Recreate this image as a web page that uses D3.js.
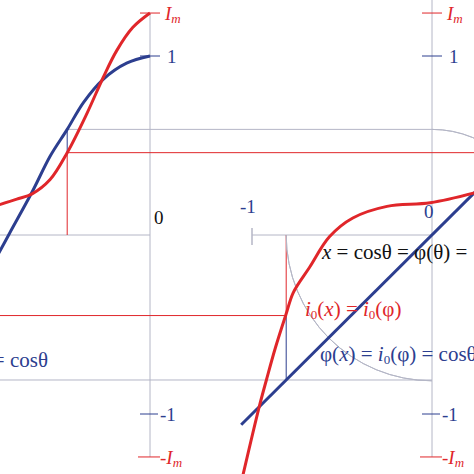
<!DOCTYPE html>
<html>
<head>
<meta charset="utf-8">
<script src="https://cdn.jsdelivr.net/npm/d3@7"></script>
<style>
  body { margin: 0; background: #fff; }
  text { font-family: "Liberation Serif", serif; }
</style>
</head>
<body>
<script>
// values
var Im = 1.24;
// left panel: theta (rad) vs value
var thetaBlue = [0, 0.26, 0.52, 0.74, 0.92, 1.11, 1.31, 1.56, 1.70];
var cosBlue   = [1, 0.96, 0.87, 0.74, 0.59, 0.44, 0.24, 0.01, -0.12];
var thetaRed  = [0, 0.19, 0.37, 0.52, 0.70, 0.92, 1.11, 1.31, 1.48, 1.67];
var i0Red     = [1.24, 1.16, 1.03, 0.88, 0.68, 0.46, 0.31, 0.23, 0.20, 0.17];
// right panel: x vs value
var xRed  = [-1.05, -0.96, -0.92, -0.87, -0.81, -0.77, -0.68, -0.57, -0.44, -0.25, -0.01, 0.235];
var i0X   = [-1.34, -0.96, -0.81, -0.63, -0.44, -0.32, -0.18, -0.01, 0.095, 0.16, 0.18, 0.235];
var xBlue = [-1.06, 0.25];
// construction points
var theta0 = 0.92, cos0 = 0.59, i0a = 0.46;
var x1 = -0.81, i0b = -0.45;

var W = 474, H = 474;
var red = "#e0262a", blue = "#2c3e8f", gray = "#b4b6c6";

var svg = d3.select("body").append("svg").attr("width", W).attr("height", H);

var y = d3.scaleLinear().domain([-1, 1]).range([414, 56]);
var xL = d3.scaleLinear().domain([0, 1]).range([150, 60]);   // theta, right to left
var xR = d3.scaleLinear().domain([-1, 0]).range([252, 432]);

function ln(x1_, y1_, x2_, y2_, c, w) {
  svg.append("line").attr("x1", x1_).attr("y1", y1_).attr("x2", x2_).attr("y2", y2_)
    .attr("stroke", c).attr("stroke-width", w || 1);
}

// axes
ln(xL(0), y(Im), xL(0), y(-Im), gray);
ln(xR(0), 0, xR(0), y(-Im), gray);
ln(0, y(0), xL(0), y(0), gray);
ln(xR(-1), y(0), xR(0), y(0), gray);
ln(xR(-1), y(0) - 7, xR(-1), y(0) + 10, gray, 1.5);

// ticks
[xL(0), xR(0)].forEach(function(cx) {
  ln(cx - 10, y(Im), cx + 10, y(Im), red);
  ln(cx - 10, y(1), cx + 10, y(1), blue);
  ln(cx - 10, y(-1), cx + 8, y(-1), blue);
  ln(cx - 12, y(-Im), cx + 10, y(-Im), red);
});

// construction lines
var cy = y(0), cx0 = xR(0);
var r1 = y(0) - y(cos0), r2 = xR(0) - xR(x1);
ln(xL(theta0), y(cos0), cx0, y(cos0), gray);
svg.append("path").attr("fill", "none").attr("stroke", gray)
  .attr("d", d3.arc()({innerRadius: r1, outerRadius: r1, startAngle: 0, endAngle: Math.PI / 2}))
  .attr("transform", "translate(" + cx0 + "," + cy + ")");
ln(xL(theta0), y(i0a), W, y(i0a), red);
ln(xL(theta0), y(i0a), xL(theta0), y(0), red);
ln(xL(theta0), y(cos0), xL(theta0), y(i0a), blue);

ln(0, y(i0b), xR(x1), y(i0b), red);
ln(xR(x1), y(0), xR(x1), y(i0b), red);
ln(xR(x1), y(i0b), xR(x1), y(x1), blue);
ln(0, y(x1), cx0, y(x1), gray);
svg.append("path").attr("fill", "none").attr("stroke", gray)
  .attr("d", d3.arc()({innerRadius: r2, outerRadius: r2, startAngle: Math.PI, endAngle: 1.5 * Math.PI}))
  .attr("transform", "translate(" + cx0 + "," + cy + ")");

// curves
var line = d3.line().curve(d3.curveCatmullRom);
function curve(xs, ys, sx, c) {
  svg.append("path").attr("fill", "none").attr("stroke", c).attr("stroke-width", 3)
    .attr("d", line(xs.map(function(v, i) { return [sx(v), y(ys[i])]; })));
}
curve(thetaBlue, cosBlue, xL, blue);
curve(thetaRed, i0Red, xL, red);
curve(xBlue, xBlue, xR, blue);
curve(xRed, i0X, xR, red);

// labels
function txt(x_, y_, parts, c, anchor, size) {
  var t = svg.append("text").attr("x", x_).attr("y", y_).attr("fill", c)
    .attr("font-size", size || 21).attr("text-anchor", anchor || "start");
  parts.forEach(function(p) {
    var s = t.append("tspan").text(p[0]);
    if (p[1] === "i") s.attr("font-style", "italic");
    if (p[1] === "sub") s.attr("font-size", 13).attr("dy", 3);
    if (p[1] === "isub") s.attr("font-size", 13).attr("dy", 3).attr("font-style", "italic");
    if (p[1] === "up") s.attr("dy", -3);
  });
}
[xL(0), xR(0)].forEach(function(cx) {
  txt(cx + 15, y(Im) + 7, [["I", "i"], ["m", "isub"]], red, "start", 19);
  txt(cx + 17, y(1) + 7, [["1"]], blue, "start", 19);
  txt(cx + 10, y(-1) + 7, [["-1"]], blue, "start", 19);
  txt(cx + 10, y(-Im) + 7, [["-"], ["I", "i"], ["m", "isub"]], red, "start", 19);
});
txt(xL(0) + 4, y(0) - 11, [["0"]], "#111", "start", 19);
txt(xR(0) - 8, y(0) - 17, [["0"]], blue, "start", 19);
txt(xR(-1) - 12, y(0) - 22, [["-1"]], blue, "start", 19);

txt(322, 259, [["x", "i"], [" = cosθ = φ(θ) ="]], "#111");
txt(305, 316, [["i", "i"], ["0", "sub"], ["(", "up"], ["x", "i"], [") = "], ["i", "i"], ["0", "sub"], ["(φ)", "up"]], red);
txt(320, 361, [["φ("], ["x", "i"], [") = "], ["i", "i"], ["0", "sub"], ["(φ) = cosθ", "up"]], blue);
txt(48, 367, [["= cosθ"]], blue, "end");
</script>
</body>
</html>
